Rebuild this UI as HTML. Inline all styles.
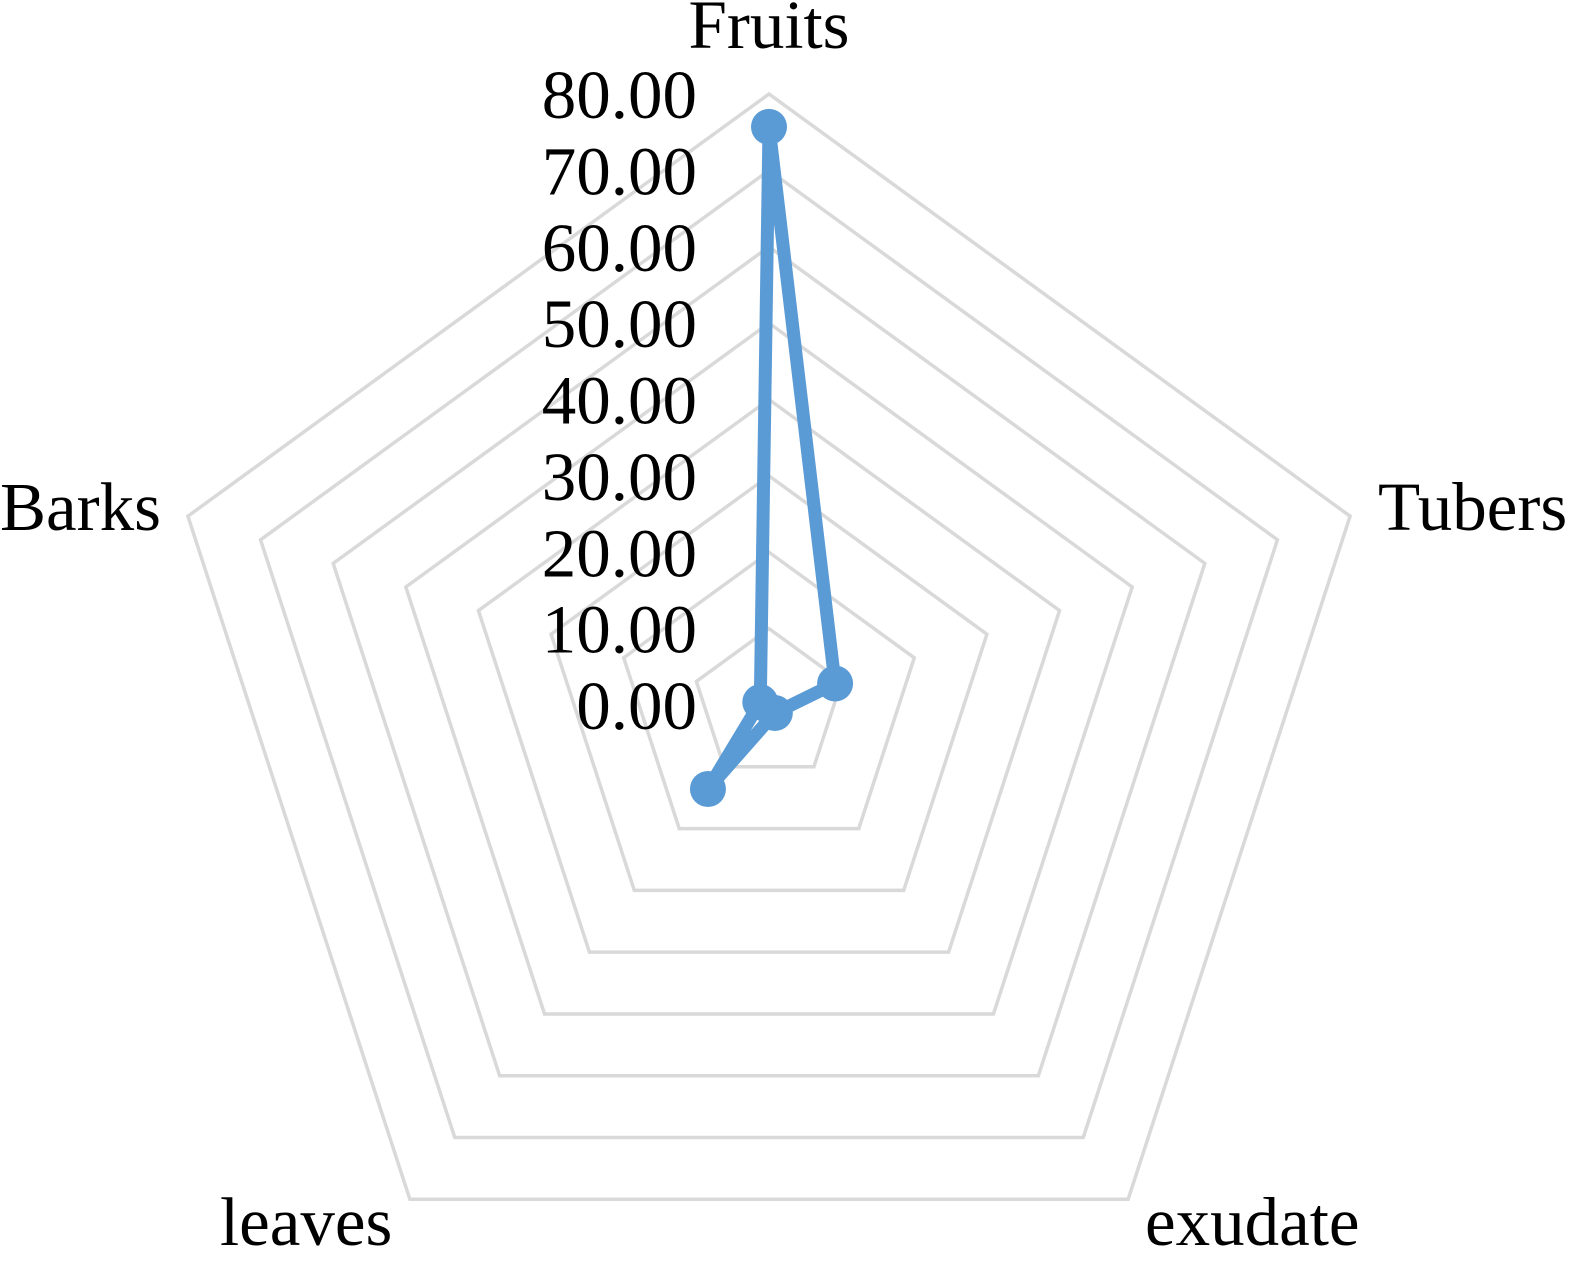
<!DOCTYPE html>
<html><head><meta charset="utf-8"><style>
html,body{margin:0;padding:0;background:#fff;}
svg{display:block;}
text{font-family:"Liberation Serif",serif;font-size:69px;fill:#000;}
</style></head><body>
<svg width="1590" height="1264" viewBox="0 0 1590 1264" xmlns="http://www.w3.org/2000/svg">
<g id="grid" fill="none" stroke="#d9d9d9" stroke-width="3.5"></g>
<g id="labels"></g>
<polyline id="series" fill="none" stroke="#5b9bd5" stroke-width="13" stroke-linejoin="round"/>
<g id="markers" fill="#5b9bd5"></g>
<text x="769" y="48" text-anchor="middle">Fruits</text>
<text x="0" y="530">Barks</text>
<text x="1378" y="530">Tubers</text>
<text x="220" y="1245">leaves</text>
<text x="1145" y="1245">exudate</text>
<script>
var cx=769,cy=705,R=611,ns="http://www.w3.org/2000/svg";
function pt(i,r){var a=-Math.PI/2+i*2*Math.PI/5;return [cx+r*Math.cos(a),cy+r*Math.sin(a)];}
var g=document.getElementById('grid'),lb=document.getElementById('labels');
for(var k=1;k<=8;k++){var r=R*k/8,p=[];for(var i=0;i<5;i++)p.push(pt(i,r).join(','));
var pg=document.createElementNS(ns,'polygon');pg.setAttribute('points',p.join(' '));g.appendChild(pg);}
for(var k=0;k<=8;k++){var t=document.createElementNS(ns,'text');t.setAttribute('x',697);t.setAttribute('y',cy-R*k/8+24);t.setAttribute('text-anchor','end');t.textContent=(k*10).toFixed(2);lb.appendChild(t);}
var d=[75.7,9.1,1.3,13.6,1.2],pts=[];
for(var i=0;i<5;i++)pts.push(pt(i,R*d[i]/80));
document.getElementById('series').setAttribute('points',pts.concat([pts[0]]).map(function(p){return p.join(',')}).join(' '));
var m=document.getElementById('markers');
pts.forEach(function(p){var c=document.createElementNS(ns,'circle');c.setAttribute('cx',p[0]);c.setAttribute('cy',p[1]);c.setAttribute('r',18);m.appendChild(c);});
</script>
</svg>
</body></html>
